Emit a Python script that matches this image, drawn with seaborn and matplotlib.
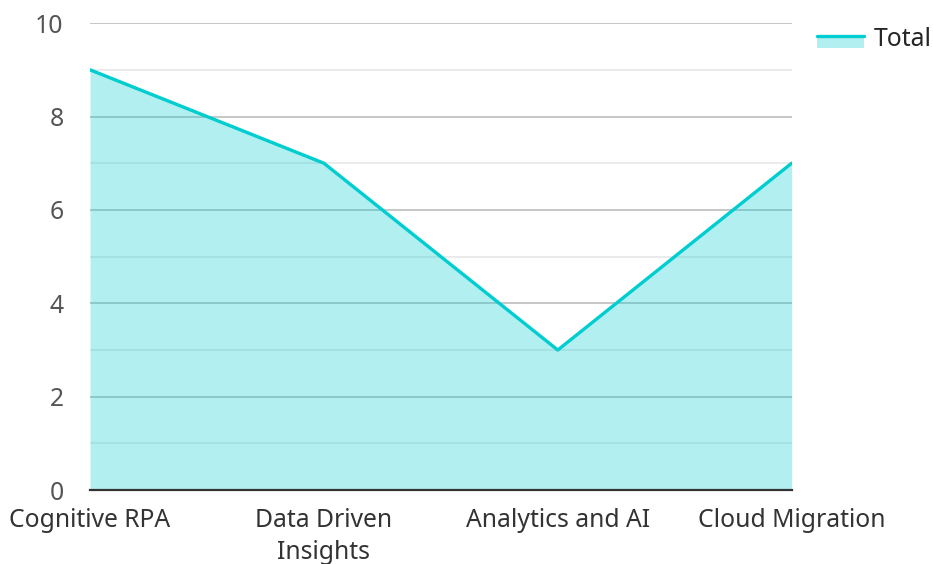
import numpy as np
import matplotlib.pyplot as plt
import seaborn as sns
from matplotlib.lines import Line2D
from matplotlib.patches import Rectangle
from matplotlib.legend_handler import HandlerBase
from matplotlib.ticker import MultipleLocator

categories = ['Cognitive RPA', 'Data Driven\nInsights', 'Analytics and AI', 'Cloud Migration']
totals = [9, 7, 3, 7]

line_color = '#00cdd0'


class AreaHandler(HandlerBase):
    # swatch: filled box with the line along its top edge
    def create_artists(self, legend, orig_handle, xdescent, ydescent,
                       width, height, fontsize, trans):
        top = height * 0.55 - ydescent
        bot = top - height * 0.7
        rect = Rectangle((-xdescent, bot), width, top - bot, facecolor=line_color,
                         alpha=0.3, linewidth=0, transform=trans)
        ln = Line2D([-xdescent, -xdescent + width], [top, top], color=line_color,
                    linewidth=2.4, transform=trans)
        return [rect, ln]


sns.set_style('white')
plt.rcParams['font.family'] = ['Noto Sans', 'DejaVu Sans']

fig = plt.figure(figsize=(9.33, 5.64), dpi=100)
ax = fig.add_axes([0.0965, 0.131, 0.752, 0.828])

x = np.arange(len(categories))
sns.lineplot(x=x, y=totals, ax=ax, color=line_color, linewidth=2.4, zorder=3)
ax.fill_between(x, totals, 0, color=line_color, alpha=0.3, linewidth=0, zorder=2)

ax.set_xlim(0, len(categories) - 1)
ax.set_ylim(0, 10)
ax.yaxis.set_major_locator(MultipleLocator(2))
ax.yaxis.set_minor_locator(MultipleLocator(1))
ax.grid(True, which='major', axis='y', color='#bdbdbd', linewidth=1.2, zorder=1)
ax.grid(True, which='minor', axis='y', color='#e8e8e8', linewidth=1.2, zorder=1)
ax.set_axisbelow(True)

ax.set_xticks(x)
ax.set_xticklabels(categories, fontsize=17.8, color='#333333', linespacing=1.35)
ax.tick_params(axis='x', length=0, pad=13)
ax.tick_params(axis='y', which='both', length=0, pad=19, labelsize=17.8, labelcolor='#555555')

for s in ['top', 'right', 'left']:
    ax.spines[s].set_visible(False)
ax.spines['bottom'].set_color('#333333')
ax.spines['bottom'].set_linewidth(1.6)
ax.spines['bottom'].set_zorder(4)

fig.legend([object()], ['Total'], handler_map={object: AreaHandler()},
           loc='upper left', bbox_to_anchor=(0.876, 0.953),
           frameon=False, fontsize=17.8, handlelength=1.9, handletextpad=0.4,
           borderaxespad=0, borderpad=0)

fig.savefig('out.png', dpi=100)
plt.close(fig)
